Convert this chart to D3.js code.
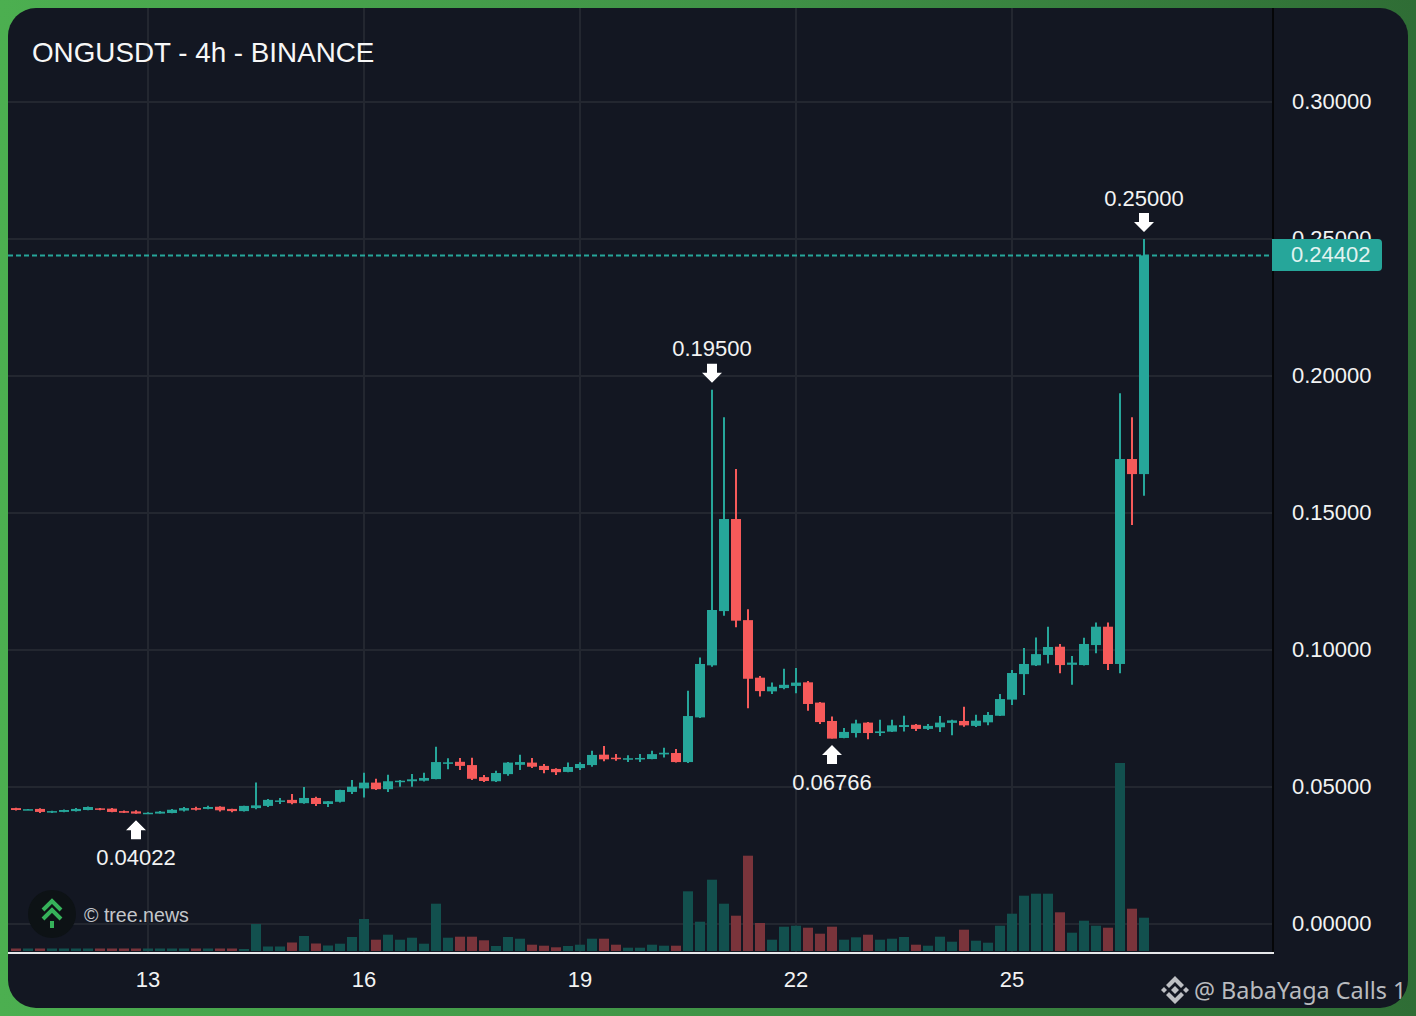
<!DOCTYPE html>
<html>
<head>
<meta charset="utf-8">
<title>ONGUSDT - 4h - BINANCE</title>
<script src="https://cdn.jsdelivr.net/npm/d3@7"></script>
<style>
  html, body { margin: 0; padding: 0; background: #3d8f42; }
  svg { display: block; }
  text { font-family: "Liberation Sans", Arial, sans-serif; }
</style>
</head>
<body>
<div id="chart"></div>
<script>
// 4h candles, left to right
const opens = [.0423,.0417,.0420,.0411,.0409,.0412,.0416,.0422,.0421,.0412,.0411,.0404,.0403,.0405,.0414,.0423,.0420,.0428,.0420,.0412,
  .0423,.0431,.0448,.0453,.0441,.0460,.0438,.0446,.0482,.0495,.0516,.0492,.0518,.0521,.0523,.0529,.0585,.0592,.0580,.0536,
  .0521,.0547,.0581,.0589,.0577,.0566,.0555,.0569,.0580,.0618,.0607,.0601,.0602,.0602,.0619,.0624,.0591,.0754,.0944,.1142,
  .1478,.1109,.0899,.0849,.0861,.0869,.0882,.0808,.0741,.0679,.0697,.0735,.0697,.0702,.0719,.0727,.0712,.0718,.0734,.0741,
  .0723,.0736,.0760,.0819,.0912,.0944,.0982,.1012,.0946,.0945,.1018,.1085,.0949,.1697,.1642];
const highs = [.0424,.0420,.0422,.0413,.0418,.0423,.0429,.0423,.0423,.0414,.0415,.0408,.0412,.0420,.0427,.0428,.0432,.0430,.0421,.0432,
  .0516,.0456,.0460,.0474,.0500,.0464,.0449,.0490,.0526,.0552,.0530,.0545,.0526,.0547,.0552,.0647,.0605,.0606,.0607,.0544,
  .0559,.0591,.0618,.0606,.0584,.0568,.0589,.0590,.0632,.0650,.0620,.0616,.0620,.0632,.0643,.0639,.0851,.0973,.1950,.1849,
  .1661,.1149,.0905,.0881,.0932,.0934,.0887,.0810,.0757,.0715,.0745,.0737,.0745,.0745,.0760,.0730,.0730,.0759,.0745,.0793,
  .0764,.0774,.0839,.0927,.1007,.1046,.1085,.1022,.0978,.1045,.1100,.1100,.1937,.1849,.25000];
const lows = [.0414,.0416,.0405,.0405,.0408,.0411,.0415,.0415,.0408,.0405,.04022,.0403,.0403,.0404,.0411,.0414,.0419,.0411,.0408,.0411,
  .0419,.0427,.0438,.0437,.0439,.0431,.0427,.0443,.0474,.0462,.0489,.0482,.0501,.0501,.0520,.0528,.0565,.0562,.0526,.0518,
  .0518,.0541,.0562,.0569,.0550,.0544,.0554,.0562,.0574,.0594,.0596,.0591,.0591,.0601,.0608,.0589,.0588,.0752,.0939,.1125,
  .1083,.0787,.0830,.0839,.0857,.0842,.0778,.0730,.06766,.0678,.0681,.0674,.0686,.0701,.0703,.0704,.0708,.0701,.0689,.0720,
  .0719,.0725,.0759,.0799,.0836,.0942,.0951,.0915,.0873,.0943,.0988,.0927,.0915,.1456,.1563];
const closes = [.0416,.0419,.0409,.0412,.0416,.0420,.0427,.0419,.0409,.0406,.0403,.0406,.0410,.0417,.0423,.0417,.0427,.0415,.0412,.0431,
  .0433,.0453,.0451,.0441,.0460,.0438,.0448,.0489,.0501,.0516,.0492,.0521,.0523,.0528,.0533,.0591,.0590,.0577,.0530,.0522,
  .0551,.0589,.0591,.0574,.0562,.0554,.0573,.0584,.0617,.0601,.0602,.0605,.0606,.0620,.0625,.0591,.0759,.0949,.1146,.1478,
  .1107,.0895,.0850,.0866,.0873,.0881,.0803,.0737,.06766,.0701,.0732,.0697,.0703,.0725,.0726,.0712,.0723,.0735,.0743,.0725,
  .0742,.0763,.0821,.0916,.0949,.0985,.1011,.0945,.0954,.1022,.1085,.0949,.1697,.1642,.24402];
// relative volume
const volumes = [2.5,2.5,2.5,2.5,2.5,2.5,2.5,2.5,2.5,2.5,2.5,2.5,2.5,2.5,2.5,2.5,2.5,2.5,2.5,2,
  27,4.5,4.5,8.5,15,7.5,5.5,7.3,14,32,11.3,16.3,11.3,13.3,7.3,47.3,13.3,14.3,14.3,10.7,
  5,14,12.3,6.3,5.3,3.7,5,6.3,12.3,12.3,6.3,3.3,3.3,6.3,5.3,5.3,59.7,29.3,71.3,47.3,
  35.3,95.3,28,11.3,24.3,25.3,23.3,17.3,24.3,11.3,13.7,16.3,11.3,12.3,14,6.3,5.3,14.3,9.3,21.3,
  10.3,8.3,25.3,37.3,55.3,57.3,57.3,38.7,18.3,30.3,25.3,23.3,188,42.3,33.3];

const priceTicks = [0, 0.05, 0.10, 0.15, 0.20, 0.25, 0.30];
const dayTickIndex = [11, 29, 47, 65, 83];
const dayTickLabels = ['13', '16', '19', '22', '25'];
const lastPrice = 0.24402;
const lowMarks = [{index: 10, price: 0.04022}, {index: 68, price: 0.06766}];
const highMarks = [{index: 58, price: 0.19500}, {index: 94, price: 0.25000}];

const title = 'ONGUSDT - 4h - BINANCE';
const UP = '#26a69a';
const DOWN = '#f65a5a';
const UP_VOL = '#12504e';
const DOWN_VOL = '#7a343b';
const GRID = '#232730';
const TEXT = '#f2f3f3';

const width = 1416;
const height = 1016;
const card = {left: 8, top: 8, right: 1408, bottom: 1008, radius: 28};
const paneRight = 1273;
const paneBottom = 953;

const x = d3.scaleLinear().domain([0, 94]).range([16, 1144]);
const y = d3.scaleLinear().domain([0, 0.30]).range([924, 102]);
const yVol = d3.scaleLinear().domain([0, 188]).range([951, 763]);

const svg = d3.select('#chart')
  .append('svg')
  .attr('width', width)
  .attr('height', height);

const defs = svg.append('defs');
const border = defs.append('linearGradient').attr('id', 'border');
border.append('stop').attr('offset', '0%').attr('stop-color', '#4caf50');
border.append('stop').attr('offset', '55%').attr('stop-color', '#3f9146');
border.append('stop').attr('offset', '100%').attr('stop-color', '#2f6d35');

defs.append('clipPath').attr('id', 'card-clip')
  .append('rect')
  .attr('x', card.left).attr('y', card.top)
  .attr('width', card.right - card.left).attr('height', card.bottom - card.top)
  .attr('rx', card.radius);

svg.append('rect')
  .attr('width', width).attr('height', height)
  .attr('fill', 'url(#border)');

const frame = svg.append('g').attr('clip-path', 'url(#card-clip)');

frame.append('rect')
  .attr('x', card.left).attr('y', card.top)
  .attr('width', card.right - card.left).attr('height', card.bottom - card.top)
  .attr('fill', '#131722');

// grid
frame.append('g').selectAll('line')
  .data(priceTicks)
  .join('line')
  .attr('x1', card.left).attr('x2', paneRight)
  .attr('y1', (d) => y(d)).attr('y2', (d) => y(d))
  .attr('stroke', GRID).attr('stroke-width', 2);

frame.append('g').selectAll('line')
  .data(dayTickIndex)
  .join('line')
  .attr('x1', (d) => x(d)).attr('x2', (d) => x(d))
  .attr('y1', card.top).attr('y2', paneBottom)
  .attr('stroke', GRID).attr('stroke-width', 2);

const index = d3.range(opens.length);
const isUp = (i) => closes[i] >= opens[i];

// volume
frame.append('g').selectAll('rect')
  .data(index)
  .join('rect')
  .attr('x', (i) => x(i) - 5)
  .attr('width', 10)
  .attr('y', (i) => yVol(volumes[i]))
  .attr('height', (i) => yVol(0) - yVol(volumes[i]))
  .attr('fill', (i) => isUp(i) ? UP_VOL : DOWN_VOL);

// last price line
frame.append('line')
  .attr('x1', card.left).attr('x2', paneRight)
  .attr('y1', y(lastPrice)).attr('y2', y(lastPrice))
  .attr('stroke', UP).attr('stroke-width', 2)
  .attr('stroke-dasharray', '5 3');

// candles
const candles = frame.append('g').selectAll('g')
  .data(index)
  .join('g');

candles.append('line')
  .attr('x1', (i) => x(i)).attr('x2', (i) => x(i))
  .attr('y1', (i) => y(highs[i])).attr('y2', (i) => y(lows[i]))
  .attr('stroke', (i) => isUp(i) ? UP : DOWN)
  .attr('stroke-width', 2);

candles.append('rect')
  .attr('x', (i) => x(i) - 5)
  .attr('width', 10)
  .attr('y', (i) => y(Math.max(opens[i], closes[i])))
  .attr('height', (i) => Math.max(1.5, Math.abs(y(opens[i]) - y(closes[i]))))
  .attr('fill', (i) => isUp(i) ? UP : DOWN);

// separators
frame.append('line')
  .attr('x1', paneRight).attr('x2', paneRight)
  .attr('y1', card.top).attr('y2', paneBottom + 1)
  .attr('stroke', '#050608').attr('stroke-width', 2);

frame.append('line')
  .attr('x1', card.left).attr('x2', paneRight + 1)
  .attr('y1', paneBottom).attr('y2', paneBottom)
  .attr('stroke', '#e6e8ea').attr('stroke-width', 2);

// axes
const yAxis = d3.axisRight(y)
  .tickValues(priceTicks)
  .tickFormat(d3.format('.5f'))
  .tickSize(0)
  .tickPadding(0);

const yAxisG = frame.append('g')
  .attr('transform', 'translate(1292,-1)')
  .call(yAxis);

const xAxis = d3.axisBottom(x)
  .tickValues(dayTickIndex)
  .tickFormat((d, i) => dayTickLabels[i])
  .tickSize(0)
  .tickPadding(0);

const xAxisG = frame.append('g')
  .attr('transform', 'translate(-0.5,971)')
  .call(xAxis);

[yAxisG, xAxisG].forEach((g) => {
  g.select('.domain').remove();
  g.selectAll('text')
    .attr('fill', TEXT)
    .style('font-family', '"Liberation Sans", Arial, sans-serif')
    .style('font-size', '22px');
});

// last price tag
frame.append('path')
  .attr('d', 'M1272,' + (y(lastPrice) - 16.4) + 'h106a4,4 0 0 1 4,4v24a4,4 0 0 1 -4,4h-106z')
  .attr('fill', UP);

frame.append('text')
  .attr('x', 1291)
  .attr('y', y(lastPrice))
  .attr('dy', '0.29em')
  .attr('fill', '#e2f3f1')
  .style('font-size', '22px')
  .text(d3.format('.5f')(lastPrice));

// high and low markers
const upArrow = 'M0,0L10,10H5V19H-5V10H-10Z';

const marks = frame.append('g');

lowMarks.forEach((m) => {
  const g = marks.append('g')
    .attr('transform', 'translate(' + x(m.index) + ',' + (y(m.price) + 6.5) + ')');
  g.append('path').attr('d', upArrow).attr('fill', '#fff');
  g.append('text')
    .attr('y', 44.5)
    .attr('text-anchor', 'middle')
    .attr('fill', TEXT)
    .style('font-size', '22px')
    .text(d3.format('.5f')(m.price));
});

highMarks.forEach((m) => {
  const g = marks.append('g')
    .attr('transform', 'translate(' + x(m.index) + ',' + (y(m.price) - 7) + ')');
  g.append('path').attr('d', upArrow).attr('transform', 'scale(1,-1)').attr('fill', '#fff');
  g.append('text')
    .attr('y', -26.5)
    .attr('text-anchor', 'middle')
    .attr('fill', TEXT)
    .style('font-size', '22px')
    .text(d3.format('.5f')(m.price));
});

// title
frame.append('text')
  .attr('x', 32)
  .attr('y', 62)
  .attr('fill', '#f7f7f7')
  .style('font-size', '27.8px')
  .text(title);

// tree.news watermark
const tree = frame.append('g').attr('transform', 'translate(52,914)');
tree.append('circle').attr('r', 24).attr('fill', '#0d1215');
tree.append('path')
  .attr('d', 'M-9,-4L0,-13L9,-4M-9,5L0,-4L9,5M0,7V14')
  .attr('fill', 'none')
  .attr('stroke', '#36b25a')
  .attr('stroke-width', 4);

frame.append('text')
  .attr('x', 84)
  .attr('y', 922)
  .attr('fill', '#c4c6ca')
  .style('font-size', '19.6px')
  .text('© tree.news');

// author watermark
const diamond = frame.append('g')
  .attr('transform', 'translate(1175,990)')
  .attr('fill', '#bdbfc3');
diamond.append('path').attr('d', 'M0,-4L4,0L0,4L-4,0Z');
diamond.append('path').attr('d', 'M-14,0L-11,-3L-8,0L-11,3Z');
diamond.append('path').attr('d', 'M14,0L11,-3L8,0L11,3Z');
diamond.append('path').attr('d', 'M0,-14L9,-5L6,-2L0,-8L-6,-2L-9,-5Z');
diamond.append('path').attr('d', 'M0,14L9,5L6,2L0,8L-6,2L-9,5Z');

frame.append('text')
  .attr('x', 1194)
  .attr('y', 999)
  .attr('fill', '#b9bbbf')
  .style('font-family', '"Noto Sans", sans-serif')
  .style('font-size', '23.4px')
  .text('@ BabaYaga Calls 1');
</script>
</body>
</html>
